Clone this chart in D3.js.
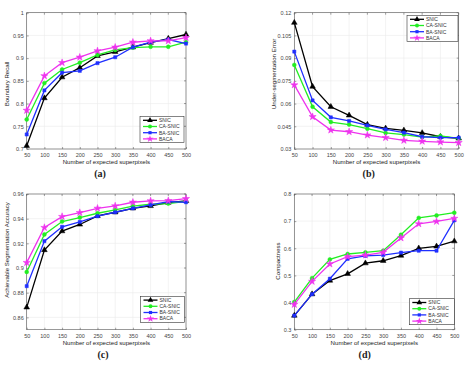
<!DOCTYPE html>
<html><head><meta charset="utf-8">
<script src="https://cdn.jsdelivr.net/npm/d3@7"></script>
<style>body{margin:0;background:#fff}svg{display:block}</style>
</head><body>
<svg id="c" width="474" height="366"></svg>
<script>
const xs = [50,100,150,200,250,300,350,400,450,500];
const seriesNames = ["SNIC","CA-SNIC","BA-SNIC","BACA"];
const colors = ["#000000","#22ee22","#1f2fff","#ee33ee"];

// (a) Boundary Recall
const aSNIC = [0.707,0.812,0.858,0.879,0.905,0.914,0.924,0.934,0.943,0.952];
const aCA   = [0.765,0.845,0.875,0.890,0.907,0.918,0.923,0.925,0.925,0.935];
const aBA   = [0.732,0.829,0.868,0.872,0.889,0.902,0.924,0.935,0.941,0.932];
const aBACA = [0.785,0.861,0.890,0.902,0.916,0.924,0.935,0.938,0.938,0.945];
const aTicks = [0.7,0.75,0.8,0.85,0.9,0.95,1];
const aTickLabels = ["0.7","0.75","0.8","0.85","0.9","0.95","1"];

// (b) Under-segmentation Error
const bSNIC = [0.1134,0.0712,0.0579,0.0522,0.0461,0.0436,0.0423,0.0406,0.0381,0.0370];
const bCA   = [0.0855,0.0579,0.0478,0.0461,0.0434,0.0406,0.0395,0.0379,0.0386,0.0370];
const bBA   = [0.0943,0.0621,0.0509,0.0485,0.0456,0.0430,0.0408,0.0381,0.0375,0.0375];
const bBACA = [0.0723,0.0513,0.0425,0.0414,0.0392,0.0375,0.0357,0.0351,0.0346,0.0342];
const bTicks = [0.03,0.045,0.06,0.075,0.09,0.105,0.12];
const bTickLabels = ["0.03","0.045","0.06","0.075","0.09","0.105","0.12"];

// (c) Achievable Segmentation Accuracy
const cSNIC = [0.8681,0.9146,0.9299,0.9353,0.9423,0.9452,0.9484,0.9503,0.9530,0.9544];
const cCA   = [0.8968,0.9272,0.9377,0.9409,0.9444,0.9471,0.9501,0.9517,0.9522,0.9541];
const cBA   = [0.8853,0.9218,0.9334,0.9374,0.9420,0.9452,0.9484,0.9511,0.9538,0.9533];
const cBACA = [0.9044,0.9328,0.9417,0.9449,0.9484,0.9503,0.9533,0.9544,0.9546,0.9562];
const cTicks = [0.86,0.88,0.9,0.92,0.94,0.96];
const cTickLabels = ["0.86","0.88","0.9","0.92","0.94","0.96"];

// (d) Compactness
const dSNIC = [0.352,0.431,0.481,0.506,0.545,0.554,0.573,0.600,0.607,0.626];
const dCA   = [0.402,0.490,0.559,0.579,0.585,0.591,0.650,0.712,0.721,0.731];
const dBA   = [0.352,0.431,0.488,0.561,0.572,0.575,0.584,0.591,0.591,0.703];
const dBACA = [0.393,0.478,0.542,0.569,0.575,0.585,0.638,0.690,0.699,0.710];
const dTicks = [0.3,0.4,0.5,0.6,0.7,0.8];
const dTickLabels = ["0.3","0.4","0.5","0.6","0.7","0.8"];

const svg = d3.select("#c");
const symbols = [d3.symbolTriangle, d3.symbolCircle, d3.symbolSquare, d3.symbolStar];
const symSizes = [14, 12, 10, 16];

function panel(cfg) {
  const {L,R,T,B,domain,ticks,tickLabels,data,ylabel,ylabelX,ylabelY,tag,tagX,legend} = cfg;
  const x = d3.scaleLinear().domain([50,500]).range([L,R]);
  const y = d3.scaleLinear().domain(domain).range([B,T]);
  const g = svg.append("g");
  g.append("rect").attr("x",L).attr("y",T).attr("width",R-L).attr("height",B-T)
    .attr("fill","#fff");
  // grid
  g.selectAll(null).data(xs).enter().append("line")
    .attr("x1",d=>x(d)).attr("x2",d=>x(d)).attr("y1",T).attr("y2",B)
    .attr("stroke","#ebebeb").attr("stroke-width",0.6);
  g.selectAll(null).data(ticks).enter().append("line")
    .attr("y1",d=>y(d)).attr("y2",d=>y(d)).attr("x1",L).attr("x2",R)
    .attr("stroke","#ebebeb").attr("stroke-width",0.6);
  // axes
  const xa = g.append("g").attr("transform",`translate(0,${B})`)
    .call(d3.axisBottom(x).tickValues(xs).tickSize(-2).tickPadding(4).tickFormat(d3.format("d")));
  const ya = g.append("g").attr("transform",`translate(${L},0)`)
    .call(d3.axisLeft(y).tickValues(ticks).tickSize(-2).tickPadding(3).tickFormat((d,i)=>tickLabels[i]));
  [xa,ya].forEach(a=>{
    a.select(".domain").remove();
    a.selectAll("line").attr("stroke","#444").attr("stroke-width",0.5);
    a.selectAll("text").attr("font-family","Liberation Sans, Arial, sans-serif")
      .attr("font-size",5.5).attr("fill","#444");
  });
  // top/right ticks
  g.selectAll(null).data(xs).enter().append("line")
    .attr("x1",d=>x(d)).attr("x2",d=>x(d)).attr("y1",T).attr("y2",T+2)
    .attr("stroke","#444").attr("stroke-width",0.5);
  g.selectAll(null).data(ticks).enter().append("line")
    .attr("y1",d=>y(d)).attr("y2",d=>y(d)).attr("x1",R).attr("x2",R-2)
    .attr("stroke","#444").attr("stroke-width",0.5);
  g.append("rect").attr("x",L).attr("y",T).attr("width",R-L).attr("height",B-T)
    .attr("fill","none").attr("stroke","#555").attr("stroke-width",0.6);
  // lines
  const line = d3.line().x((d,i)=>x(xs[i])).y(d=>y(d));
  data.forEach((s,k)=>{
    g.append("path").attr("d",line(s)).attr("fill","none")
      .attr("stroke",colors[k]).attr("stroke-width",1.3);
    g.selectAll(null).data(s).enter().append("path")
      .attr("transform",(d,i)=>`translate(${x(xs[i])},${y(d)})`)
      .attr("d",d3.symbol().type(symbols[k]).size(symSizes[k]))
      .attr("fill",colors[k]).attr("stroke",colors[k]).attr("stroke-width",0.5);
  });
  // labels
  g.append("text").attr("x",(L+R)/2).attr("y",B+15).attr("text-anchor","middle")
    .attr("font-family","Liberation Sans, Arial, sans-serif").attr("font-size",6.1)
    .attr("fill","#222").text("Number of expected superpixels");
  g.append("text").attr("transform",`translate(${ylabelX},${ylabelY}) rotate(-90)`)
    .attr("text-anchor","middle").attr("font-family","Liberation Sans, Arial, sans-serif")
    .attr("font-size",6.1).attr("fill","#222").text(ylabel);
  g.append("text").attr("x",tagX).attr("y",B+28).attr("text-anchor","middle")
    .attr("font-family","Liberation Serif, Times New Roman, serif").attr("font-weight","bold")
    .attr("font-size",10).attr("fill","#222").text(tag);
  // legend
  const lg = g.append("g").attr("transform",`translate(${legend[0]},${legend[1]})`);
  const lw = legend[2], lh = 26;
  lg.append("rect").attr("width",lw).attr("height",lh).attr("fill","#fff")
    .attr("stroke","#333").attr("stroke-width",0.6);
  seriesNames.forEach((n,k)=>{
    const yy = 3.8 + k*6.2;
    lg.append("line").attr("x1",3).attr("x2",17).attr("y1",yy).attr("y2",yy)
      .attr("stroke",colors[k]).attr("stroke-width",1.3);
    lg.append("path").attr("transform",`translate(10,${yy})`)
      .attr("d",d3.symbol().type(symbols[k]).size(symSizes[k]))
      .attr("fill",colors[k]);
    lg.append("text").attr("x",19).attr("y",yy+1.8)
      .attr("font-family","Liberation Sans, Arial, sans-serif").attr("font-size",5)
      .attr("fill","#333").text(n);
  });
}

panel({L:26.7,R:186,T:12.7,B:149,domain:[0.7,1],ticks:aTicks,tickLabels:aTickLabels,
  data:[aSNIC,aCA,aBA,aBACA],ylabel:"Boundary Recall",ylabelX:9,ylabelY:84,tag:"(a)",tagX:100,
  legend:[140,116.5,44]});
panel({L:294.3,R:458.7,T:12.7,B:149,domain:[0.03,0.12],ticks:bTicks,tickLabels:bTickLabels,
  data:[bSNIC,bCA,bBA,bBACA],ylabel:"Under-segmentation Error",ylabelX:276,ylabelY:74,tag:"(b)",tagX:368.7,
  legend:[407,15.5,51]});
panel({L:26.7,R:186,T:194,B:329.7,domain:[0.85,0.96],ticks:cTicks,tickLabels:cTickLabels,
  data:[cSNIC,cCA,cBA,cBACA],ylabel:"Achievable Segmentation Accuracy",ylabelX:9,ylabelY:250,tag:"(c)",tagX:103,
  legend:[140.5,296.3,44]});
panel({L:294.3,R:454.3,T:194,B:329.7,domain:[0.3,0.8],ticks:dTicks,tickLabels:dTickLabels,
  data:[dSNIC,dCA,dBA,dBACA],ylabel:"Compactness",ylabelX:280,ylabelY:261,tag:"(d)",tagX:364.7,
  legend:[409.3,298.7,45]});
</script>
</body></html>
